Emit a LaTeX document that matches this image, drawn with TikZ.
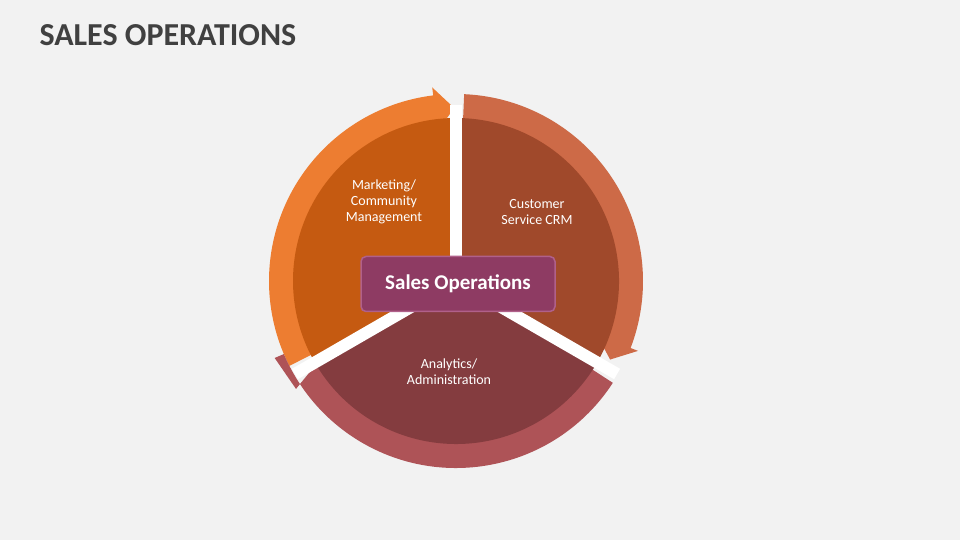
\documentclass[tikz,border=0pt]{standalone}
\usepackage{fontspec}
\setmainfont{Carlito}
\definecolor{bg}{HTML}{F2F2F2}
\definecolor{ringO}{HTML}{ED7D31}
\definecolor{ringB}{HTML}{CD6A47}
\definecolor{ringR}{HTML}{AE5357}
\definecolor{pieO}{HTML}{C55A11}
\definecolor{pieB}{HTML}{A0492B}
\definecolor{pieR}{HTML}{843C3F}
\definecolor{boxc}{HTML}{8E3B63}
\definecolor{boxb}{HTML}{B0608A}
\definecolor{titlec}{HTML}{404040}
\begin{document}
\begin{tikzpicture}[x=1pt,y=1pt,
  lbl/.style={text=white,font=\fontsize{14}{16}\selectfont,align=center},
  sep/.style={white,line width=12pt}]
\fill[bg] (0,0) rectangle (960,540);
\useasboundingbox (0,0) rectangle (960,540);
\node[anchor=west,text=titlec,font=\bfseries\fontsize{32}{36}\selectfont] (title) at (36,505) {SALES OPERATIONS};
\begin{scope}[shift={(456,259)}]
% arrows
\fill[ringO] (207:187) arc[start angle=207,end angle=97,radius=187] -- (97:195) -- (90.6:173) -- (97:151) -- (97:160) arc[start angle=97,end angle=207,radius=160] -- cycle;
\fill[ringB] (87.5:187) arc[start angle=87.5,end angle=-21,radius=187] -- (-21:195) -- (-27:173) -- (-21:151) -- (-21:160) arc[start angle=-21,end angle=87.5,radius=160] -- cycle;
\fill[ringR] (-33:187) arc[start angle=-33,end angle=-157,radius=187] -- (-157:197) -- (-146:193) -- (-150:157) -- (-157:160) arc[start angle=-157,end angle=-33,radius=160] -- cycle;
% pie
\fill[pieO] (0,0) -- (90:163) arc[start angle=90,end angle=210,radius=163] -- cycle;
\fill[pieB] (0,0) -- (-30:163) arc[start angle=-30,end angle=90,radius=163] -- cycle;
\fill[pieR] (0,0) -- (210:163) arc[start angle=210,end angle=330,radius=163] -- cycle;
\coordinate (c) at (0,0);
\coordinate (s1) at (90:176);
\coordinate (s2) at (-30:186);
\coordinate (s3) at (210:186);
\draw[sep] (c) -- (s1);
\draw[sep] (c) -- (s2);
\draw[sep] (c) -- (s3);
\end{scope}
\node[lbl] (mk) at (384,338) {Marketing/\\Community\\Management};
\node[lbl] (cs) at (537,328) {Customer\\Service CRM};
\node[lbl] (an) at (449,168) {Analytics/\\Administration};
\node[fill=boxc,draw=boxb,line width=1.5pt,rounded corners=5pt,minimum width=194pt,minimum height=55pt,text=white,font=\bfseries\fontsize{21}{24}\selectfont] (box) at (458,256) {Sales Operations};
\end{tikzpicture}
\end{document}
